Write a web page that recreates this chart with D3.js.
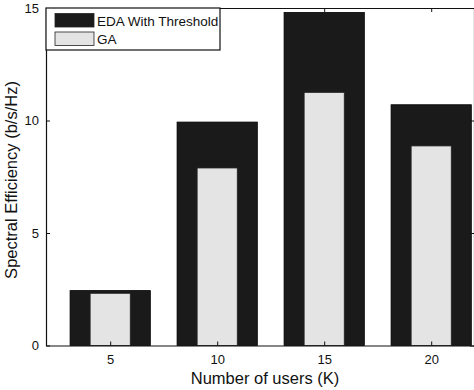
<!DOCTYPE html>
<html><head><meta charset="utf-8">
<script src="https://cdn.jsdelivr.net/npm/d3@7"></script>
<style>body{margin:0;background:#fff;} text{font-family:"Liberation Sans",Arial,sans-serif;fill:#111;}</style>
</head><body>
<svg id="c" width="474" height="390"></svg>
<script>
const users = [5, 10, 15, 20];
const edaThreshold = [2.44, 9.93, 14.8, 10.7];
const ga = [2.32, 7.89, 11.25, 8.87];
const yTicks = [0, 5, 10, 15];
const seriesNames = ["EDA With Threshold", "GA"];

const svg = d3.select("#c");
const L = 46, R = 474, T = 8, B = 345.5;
const x = d3.scaleLinear().domain([2, 22]).range([L, R]);
const y = d3.scaleLinear().domain([0, 15]).range([B, T]);
const step = x(10) - x(5);
const wBlack = step * 0.75, wGrey = step * 0.375;

const g = svg.append("g");
g.selectAll("rect.eda").data(users).join("rect")
  .attr("x", (d) => x(d) - wBlack / 2).attr("width", wBlack)
  .attr("y", (d, i) => y(edaThreshold[i])).attr("height", (d, i) => y(0) - y(edaThreshold[i]))
  .attr("fill", "#1a1a1a").attr("stroke", "#000").attr("stroke-width", 0.8);
g.selectAll("rect.ga").data(users).join("rect")
  .attr("x", (d) => x(d) - wGrey / 2).attr("width", wGrey)
  .attr("y", (d, i) => y(ga[i])).attr("height", (d, i) => y(0) - y(ga[i]))
  .attr("fill", "#e4e4e4").attr("stroke", "#222").attr("stroke-width", 0.8);

// axes
const yAx = svg.append("g").attr("transform", `translate(${L},0)`)
  .call(d3.axisLeft(y).tickValues(yTicks).tickSizeInner(-4).tickSizeOuter(0).tickPadding(7));
const yAxR = svg.append("g").attr("transform", `translate(${R},0)`)
  .call(d3.axisRight(y).tickValues(yTicks).tickSizeInner(-4).tickSizeOuter(0).tickFormat(""));
const xAx = svg.append("g").attr("transform", `translate(0,${B})`)
  .call(d3.axisBottom(x).tickValues(users).tickSizeInner(-4).tickSizeOuter(0).tickPadding(9));
const xAxT = svg.append("g").attr("transform", `translate(0,${T})`)
  .call(d3.axisTop(x).tickValues(users).tickSizeInner(-4).tickSizeOuter(0).tickFormat(""));
[yAx, yAxR, xAx, xAxT].forEach(a => {
  a.selectAll("path.domain").attr("stroke", "#111").attr("stroke-width", 1.2);
  a.selectAll(".tick line").attr("stroke", "#111");
  a.selectAll("text").style("font-size", "13px").attr("fill", "#111");
});

// legend
const lg = svg.append("g");
lg.append("rect").attr("x", L).attr("y", T).attr("width", 174).attr("height", 42)
  .attr("fill", "#fff").attr("stroke", "#111").attr("stroke-width", 1.2);
const cols = ["#1a1a1a", "#e4e4e4"];
seriesNames.forEach((n, i) => {
  lg.append("rect").attr("x", 55).attr("y", 13.5 + i * 18.5).attr("width", 39).attr("height", 13.5)
    .attr("fill", cols[i]).attr("stroke", "#222").attr("stroke-width", 0.8);
  lg.append("text").attr("x", 97).attr("y", 25.5 + i * 18.5).text(n).style("font-size", "13.5px");
});

svg.append("text").attr("x", (L + R) / 2 + 5).attr("y", 384).attr("text-anchor", "middle")
  .style("font-size", "16.5px").text("Number of users (K)");
svg.append("text").attr("transform", `translate(17,180) rotate(-90)`).attr("text-anchor", "middle")
  .style("font-size", "16.5px").text("Spectral Efficiency (b/s/Hz)");
</script>
</body></html>
